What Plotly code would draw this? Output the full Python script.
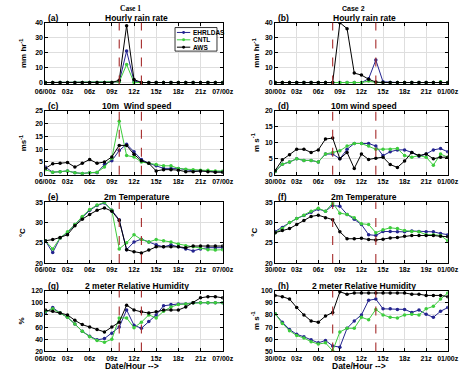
import plotly.graph_objects as go

hours = [0, 1, 2, 3, 4, 5, 6, 7, 8, 9, 10, 11, 12, 13, 14, 15, 16, 17, 18, 19, 20, 21, 22, 23, 24]
tick_hours = [0, 3, 6, 9, 12, 15, 18, 21, 24]
c1_ticks = ["06/00z", "03z", "06z", "09z", "12z", "15z", "18z", "21z", "07/00z"]
c2_ticks = ["30/00z", "03z", "06z", "09z", "12z", "15z", "18z", "21z", "01/00z"]
c2_ticks_f = ["30/00z", "03z", "06z", "09z", "12z", "15z", "18z", "19z", "01/00z"]
case1_events = [10, 13]
case2_events = [8, 14]
series_names = ["EHRLDAS", "CNTL", "AWS"]

# (a) Case 1 hourly rain rate
a_ehr = [0, 0, 0, 0, 0, 0, 0, 0, 0, 0, 0.5, 21, 1.0, 0, 0, 0, 0, 0, 0, 0, 0, 0, 0, 0, 0]
a_cntl = [0, 0, 0, 0, 0, 0, 0, 0, 0, 0, 0.5, 12, 0, 0, 0, 0, 0, 0, 0, 0, 0, 0, 0, 0, 0]
a_aws = [0, 0, 0, 0, 0, 0, 0, 0, 0, 0, 1.5, 38, 2.0, 0, 0, 0, 0, 0, 0, 0, 0, 0, 0, 0, 0]
# (b) Case 2 hourly rain rate
b_ehr = [0, 0, 0, 0, 0, 0, 0, 0, 0, 0, 0, 0, 0, 2.5, 15, 0.5, 0, 0, 0, 0, 0, 0, 0, 0, 0]
b_cntl = [0, 0, 0, 0, 0, 0, 0, 0, 0, 0, 0, 0, 0, 1.0, 0, 0, 0, 0, 0, 0, 0, 0, 0, 0.5, 0]
b_aws = [0, 0, 0, 0, 0, 0, 0, 0, 0, 40, 36, 6.3, 5.0, 2.2, 0.3, 0, 0, 0, 0, 0, 0, 0, 0, 0, 0]
# (c) Case 1 10m wind speed
c_ehr = [3.0, 1.0, 1.2, 1.5, 0.8, 0.5, 0.8, 0.8, 4.0, 5.5, 9.5, 12.0, 9.0, 6.0, 4.5, 3.5, 2.5, 2.5, 2.5, 2.0, 1.5, 1.5, 1.5, 1.2, 1.2]
c_cntl = [2.0, 1.0, 1.2, 1.5, 0.8, 0.5, 0.8, 1.0, 3.0, 6.5, 21.0, 7.5, 7.0, 5.0, 4.5, 4.0, 3.5, 3.5, 2.5, 2.2, 2.0, 1.8, 1.8, 1.5, 1.5]
c_aws = [2.5, 4.3, 4.5, 4.8, 3.0, 4.5, 6.0, 4.5, 5.0, 7.0, 11.5, 11.5, 8.0, 5.5, 4.5, 1.5, 2.0, 2.0, 1.8, 1.2, 1.2, 1.5, 1.2, 1.0, 1.0]
# (d) Case 2 10m wind speed
d_ehr = [1.0, 3.3, 4.0, 5.0, 4.5, 4.5, 4.0, 6.5, 6.5, 5.0, 8.0, 9.8, 9.8, 9.8, 9.0, 6.0, 7.2, 7.8, 7.8, 7.0, 5.8, 6.5, 7.8, 8.2, 7.2]
d_cntl = [1.0, 3.3, 4.0, 5.0, 4.5, 4.5, 4.0, 6.5, 7.0, 7.5, 9.0, 9.8, 9.8, 9.0, 8.0, 8.0, 8.0, 8.2, 6.0, 5.5, 6.0, 5.5, 3.0, 6.5, 5.5]
d_aws = [1.3, 4.7, 6.3, 8.0, 8.0, 7.0, 7.8, 11.2, 11.5, 5.0, 7.0, 2.0, 6.5, 4.8, 5.2, 5.5, 3.2, 2.3, 4.3, 7.0, 6.0, 6.5, 5.0, 5.5, 5.5]
# (e) Case 1 2m temperature
e_ehr = [25.5, 22.6, 26.2, 27.5, 29.5, 31.3, 33.0, 34.2, 34.8, 33.0, 30.7, 23.3, 25.2, 25.9, 25.2, 24.5, 24.0, 24.5, 24.0, 23.5, 23.0, 23.5, 23.8, 23.8, 23.8]
e_cntl = [25.5, 23.5, 26.2, 27.7, 29.5, 31.5, 33.2, 34.3, 35.0, 33.0, 23.5, 25.0, 27.0, 25.8, 25.2, 25.8, 25.5, 25.2, 24.7, 24.3, 24.0, 23.7, 23.3, 23.2, 23.3]
e_aws = [25.5, 25.8, 26.3, 27.0, 29.2, 30.8, 32.0, 33.0, 33.6, 32.8, 30.5, 23.3, 22.8, 22.5, 23.2, 24.0, 24.0, 24.0, 24.0, 23.8, 24.2, 24.2, 24.2, 24.2, 24.2]
# (f) Case 2 2m temperature
f_ehr = [27.8, 28.8, 30.0, 31.0, 31.7, 32.5, 33.3, 32.8, 34.2, 34.0, 32.0, 30.8, 29.5, 27.0, 26.8, 27.8, 27.8, 27.7, 27.7, 27.9, 27.8, 27.7, 27.7, 27.3, 27.0]
f_cntl = [27.5, 28.5, 30.0, 31.0, 31.8, 32.8, 33.5, 32.8, 34.8, 32.3, 32.0, 31.2, 29.7, 29.5, 27.5, 28.2, 28.7, 28.5, 28.0, 27.8, 27.7, 27.0, 27.0, 26.8, 25.5]
f_aws = [27.5, 28.0, 28.5, 29.5, 30.5, 31.5, 31.8, 31.2, 30.7, 27.7, 26.0, 26.0, 26.1, 25.8, 25.7, 25.9, 26.2, 26.3, 26.6, 26.8, 26.8, 26.8, 26.8, 26.6, 26.5]
# (g) Case 1 2m relative humidity
g_ehr = [83, 92, 83, 76, 65, 53, 45, 39, 41, 50, 60, 88, 63, 58, 69, 80, 95, 97, 98, 98, 100, 100, 100, 100, 100]
g_cntl = [85, 90, 83, 76, 65, 53, 44, 38, 35, 40, 75, 75, 59, 68, 80, 75, 86, 93, 97, 98, 100, 100, 100, 100, 100]
g_aws = [88, 86, 83, 80, 71, 64, 60, 56, 52, 60, 68, 96, 88, 85, 83, 85, 88, 88, 88, 93, 100, 108, 110, 110, 108]
# (h) Case 2 2m relative humidity
h_ehr = [81, 74, 68, 64, 62, 59.5, 57, 59, 54.5, 53.5, 69, 75, 80, 92, 93, 85, 85, 84.5, 84.5, 82, 84, 80.5, 78, 83, 86]
h_cntl = [81, 73, 67, 63, 61, 58, 56, 57, 50.5, 66, 69, 69, 78, 76, 84.5, 80, 78, 77.5, 80, 80.5, 80, 85, 87, 93, 98]
h_aws = [96, 95, 93, 86, 80, 75, 74, 79, 82, 99, 97, 98, 98, 98, 98, 98, 98, 98, 98, 97, 97, 96, 96, 96, 95]

W, H = 474, 375
BLUE = "#24248f"
GREEN = "#3dcc3d"
BLACK = "#000000"
RED = "#a52a2a"
colors = [BLUE, GREEN, BLACK]
FONT = "Liberation Sans"

panels = [
    dict(lab="(a)", title="Hourly rain rate", ylab="mm hr<sup>-1</sup>", data=[a_ehr, a_cntl, a_aws],
         yr=[-1.3, 40], yt=[0, 10, 20, 30, 40], tt=c1_ticks, ev=case1_events, col=0, row=0),
    dict(lab="(b)", title="Hourly rain rate", ylab="mm hr<sup>-1</sup>", data=[b_ehr, b_cntl, b_aws],
         yr=[-1.3, 40], yt=[0, 10, 20, 30, 40], tt=c2_ticks, ev=case2_events, col=1, row=0),
    dict(lab="(c)", title="10m  Wind speed", ylab="ms<sup>-1</sup>", data=[c_ehr, c_cntl, c_aws],
         yr=[0, 25], yt=[0, 5, 10, 15, 20, 25], tt=c1_ticks, ev=case1_events, col=0, row=1),
    dict(lab="(d)", title="10m wind speed", ylab="m s<sup>-1</sup>", data=[d_ehr, d_cntl, d_aws],
         yr=[0, 20], yt=[0, 5, 10, 15, 20], tt=c2_ticks, ev=case2_events, col=1, row=1),
    dict(lab="(e)", title="2m Temperature", ylab="°C", data=[e_ehr, e_cntl, e_aws],
         yr=[20, 35], yt=[20, 25, 30, 35], tt=c1_ticks, ev=case1_events, col=0, row=2),
    dict(lab="(f)", title="2m Temperature", ylab="°C", data=[f_ehr, f_cntl, f_aws],
         yr=[20, 35], yt=[20, 25, 30, 35], tt=c2_ticks_f, ev=case2_events, col=1, row=2),
    dict(lab="(g)", title="2 meter Relative Humidity", ylab="%", data=[g_ehr, g_cntl, g_aws],
         yr=[20, 120], yt=[20, 40, 60, 80, 100, 120], tt=c1_ticks, ev=case1_events, col=0, row=3),
    dict(lab="(h)", title="2 meter Relative Humidity", ylab="m s<sup>-1</sup>", data=[h_ehr, h_cntl, h_aws],
         yr=[50, 100], yt=[50, 60, 70, 80, 90, 100], tt=c2_ticks, ev=case2_events, col=1, row=3),
]

cols_px = [(36, 222), (277, 458)]
rows_px = [(19, 82), (109, 174), (202, 264), (292, 354)]
ylab_x = [12, 256]

def px(x):
    return x / W

def py(y):
    return 1 - y / H

fig = go.Figure()
layout = dict(width=W, height=H, margin=dict(l=0, r=0, t=0, b=0),
              paper_bgcolor="white", plot_bgcolor="white", showlegend=False)
annotations = []
shapes = []

for i, p in enumerate(panels):
    k = i + 1
    xs = "" if k == 1 else str(k)
    x0, x1 = cols_px[p["col"]]
    y0, y1 = rows_px[p["row"]]
    for name, vals, c in zip(series_names, p["data"], colors):
        fig.add_trace(go.Scatter(x=hours, y=vals, mode="lines+markers", name=name,
                                 line=dict(color=c, width=1), marker=dict(color=c, size=3.5),
                                 xaxis="x" + xs, yaxis="y" + xs, cliponaxis=True))
    common = dict(showgrid=True, gridcolor="#dedede", gridwidth=0.7, showline=True, linecolor="black",
                  linewidth=1, mirror="ticks", ticks="inside", ticklen=3, tickcolor="black",
                  zeroline=False, tickfont=dict(family=FONT, size=7, color="black", weight="bold"))
    layout["xaxis" + xs] = dict(common, domain=[px(x0), px(x1)], range=[0, 24], tickvals=tick_hours,
                                ticktext=p["tt"], anchor="y" + xs)
    layout["yaxis" + xs] = dict(common, domain=[py(y1), py(y0)], range=p["yr"], tickvals=p["yt"],
                                anchor="x" + xs)
    for ev in p["ev"]:
        shapes.append(dict(type="line", xref="x" + xs, yref="y" + xs + " domain", x0=ev, x1=ev, y0=0, y1=1,
                           line=dict(color=RED, width=1.1, dash="dash")))
    annotations.append(dict(text="<b>" + p["lab"] + "</b>", x=px(x0 + 1), y=py(y0 - 5), xref="paper", yref="paper",
                            xanchor="left", yanchor="middle", showarrow=False,
                            font=dict(family=FONT, size=8.5, color="black")))
    annotations.append(dict(text="<b>" + p["title"] + "</b>", x=px((x0 + x1) / 2 + 3), y=py(y0 - 5), xref="paper", yref="paper",
                            xanchor="center", yanchor="middle", showarrow=False,
                            font=dict(family=FONT, size=8.5, color="black")))
    annotations.append(dict(text="<b>" + p["ylab"] + "</b>", x=px(ylab_x[p["col"]]), y=py((y0 + y1) / 2), xref="paper", yref="paper",
                            xanchor="center", yanchor="middle", showarrow=False, textangle=-90,
                            font=dict(family=FONT, size=8, color="black")))

annotations.append(dict(text="<b>Case 1</b>", x=px(125), y=py(4.5), xref="paper", yref="paper", showarrow=False,
                        xanchor="center", yanchor="middle", font=dict(family="Liberation Serif", size=7.5, color="black")))
annotations.append(dict(text="<b>Case 2</b>", x=px(359), y=py(4.5), xref="paper", yref="paper", showarrow=False,
                        xanchor="center", yanchor="middle", font=dict(family=FONT, size=7, color="black")))
for cx in [127, 365]:
    annotations.append(dict(text="<b>Date/Hour --></b>", x=px(cx), y=py(369), xref="paper", yref="paper", showarrow=False,
                            xanchor="center", yanchor="middle", font=dict(family=FONT, size=8.5, color="black")))

# legend box (panel a)
lx0, lx1, ly0, ly1 = 172, 216, 24, 48
shapes.append(dict(type="rect", xref="paper", yref="paper", x0=px(lx0), x1=px(lx1), y0=py(ly1), y1=py(ly0),
                   line=dict(color="black", width=0.8), fillcolor="white", layer="above"))
for j, (name, c) in enumerate(zip(series_names, colors)):
    yy = 29 + j * 7.5
    shapes.append(dict(type="line", xref="paper", yref="paper", x0=px(lx0 + 2), x1=px(lx0 + 16), y0=py(yy), y1=py(yy),
                       line=dict(color=c, width=1), layer="above"))
    shapes.append(dict(type="circle", xref="paper", yref="paper", x0=px(lx0 + 7.5), x1=px(lx0 + 10.5),
                       y0=py(yy + 1.5), y1=py(yy - 1.5), fillcolor=c, line=dict(color=c, width=0), layer="above"))
    annotations.append(dict(text="<b>" + name + "</b>", x=px(lx0 + 17), y=py(yy), xref="paper", yref="paper", showarrow=False,
                            xanchor="left", yanchor="middle", font=dict(family=FONT, size=6.5, color="black")))

layout["annotations"] = annotations
layout["shapes"] = shapes
fig.update_layout(**layout)
fig.write_html("out.html", config={"displayModeBar": False},
               post_script="document.body.style.margin='0px';document.body.style.overflow='hidden';")
